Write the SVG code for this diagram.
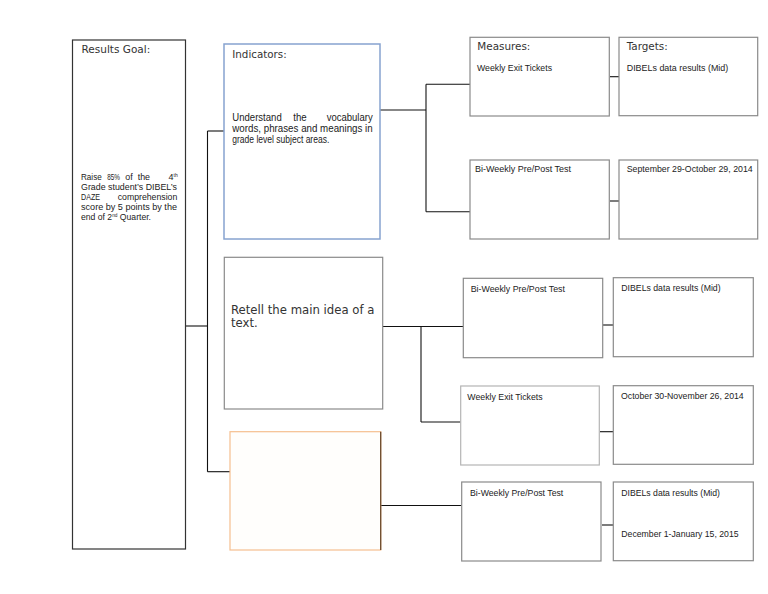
<svg xmlns="http://www.w3.org/2000/svg" width="768" height="594" viewBox="0 0 768 594">
<style>
.box{fill:#fff;stroke:#8a8a8a;stroke-width:1.2}
.lt{stroke:#b4b4b4}
.dk{stroke:#333}
.conn path{fill:none;stroke:#111;stroke-width:1.1}
.h{font-family:"DejaVu Sans",sans-serif;fill:#333}
.n{font-family:"Liberation Sans",Arial,sans-serif;fill:#222;font-size:9.3px}
.p{font-family:"Liberation Sans",Arial,sans-serif;fill:#222;font-size:10px}
.g{font-family:"Liberation Sans",Arial,sans-serif;fill:#222;font-size:9px}
.sup{font-size:5px}
</style>
<rect width="768" height="594" fill="#fff"/>

<g class="conn">
<path d="M185.5,326 H207.5"/>
<path d="M207.5,131 V471.7"/>
<path d="M207.5,131 H224"/>
<path d="M207.5,471.7 H230"/>
<path d="M380,110 H426"/>
<path d="M426,84.3 V211.7"/>
<path d="M426,84.3 H470"/>
<path d="M426,211.7 H470"/>
<path d="M610,76.7 H619"/>
<path d="M610,201 H619"/>
<path d="M382.7,326.5 H463.3"/>
<path d="M421,326.5 V422"/>
<path d="M421,422 H460.7"/>
<path d="M603,325 H613.3"/>
<path d="M600,431.7 H613.3"/>
<path d="M380.7,505.5 H461.7"/>
<path d="M602,525 H613.3"/>
</g>

<g id="goal">
<rect class="box dk" x="72.5" y="40" width="113" height="509"/>
<text class="h" x="81.5" y="52.7" font-size="10.5">Results Goal:</text>
<text class="g" x="81" y="180" textLength="20.7" lengthAdjust="spacingAndGlyphs">Raise</text>
<text class="g" x="107.3" y="180" textLength="12.7" lengthAdjust="spacingAndGlyphs">85%</text>
<text class="g" x="125.3" y="180" textLength="7.4" lengthAdjust="spacingAndGlyphs">of</text>
<text class="g" x="137.7" y="180" textLength="12.3" lengthAdjust="spacingAndGlyphs">the</text>
<text class="g" x="168.5" y="180">4<tspan class="sup" dy="-3">th</tspan></text>
<text class="g" x="81" y="190" textLength="96" lengthAdjust="spacingAndGlyphs">Grade student’s DIBEL’s</text>
<text class="g" x="81" y="200" textLength="19" lengthAdjust="spacingAndGlyphs">DAZE</text>
<text class="g" x="117.7" y="200" textLength="59.6" lengthAdjust="spacingAndGlyphs">comprehension</text>
<text class="g" x="81" y="210" textLength="96" lengthAdjust="spacingAndGlyphs">score by 5 points by the</text>
<text class="g" x="81" y="220" textLength="70" lengthAdjust="spacingAndGlyphs">end of 2<tspan class="sup" dy="-3">nd</tspan><tspan dy="3"> Quarter.</tspan></text>
</g>

<g id="indicators">
<rect class="box" x="224" y="44" width="156" height="195" style="stroke:#87a3cf;stroke-width:1.5"/>
<text class="h" x="232.3" y="58.3" font-size="10.3">Indicators:</text>
<text class="p" x="232.3" y="120.7" textLength="49.4" lengthAdjust="spacingAndGlyphs">Understand</text>
<text class="p" x="293.3" y="120.7" textLength="13.4" lengthAdjust="spacingAndGlyphs">the</text>
<text class="p" x="326.7" y="120.7" textLength="46" lengthAdjust="spacingAndGlyphs">vocabulary</text>
<text class="p" x="232.3" y="131.7" textLength="140.4" lengthAdjust="spacingAndGlyphs">words, phrases and meanings in</text>
<text class="p" x="232.3" y="142.7" textLength="97" lengthAdjust="spacingAndGlyphs">grade level subject areas.</text>
</g>

<g id="retell">
<rect class="box" x="224.3" y="257.3" width="158.4" height="151.7"/>
<text class="h" x="231" y="314" font-size="11.7">Retell the main idea of a</text>
<text class="h" x="231" y="327.3" font-size="11.7">text.</text>
</g>

<g id="blank">
<rect x="230" y="431.7" width="150.7" height="118.3" fill="#fffefc" stroke="#f5bf8f" stroke-width="1.2"/>
<path d="M380.7,431.7 V550" stroke="#6b4a2e" stroke-width="1.3" fill="none"/>
</g>

<g id="m1">
<rect class="box" x="470" y="37.3" width="139.3" height="78.7"/>
<text class="h" x="477.3" y="50" font-size="10.4">Measures:</text>
<text class="n" x="477" y="70.7" textLength="75" lengthAdjust="spacingAndGlyphs">Weekly Exit Tickets</text>
</g>
<g id="t1">
<rect class="box" x="619" y="37.3" width="138.7" height="78.4"/>
<text class="h" x="626.7" y="50" font-size="10.4">Targets:</text>
<text class="n" x="626.7" y="70.7" textLength="101.6" lengthAdjust="spacingAndGlyphs">DIBELs data results (Mid)</text>
</g>
<g id="m2">
<rect class="box" x="470" y="160" width="139.3" height="79"/>
<text class="n" x="475" y="171.7" textLength="96" lengthAdjust="spacingAndGlyphs">Bi-Weekly Pre/Post Test</text>
</g>
<g id="t2">
<rect class="box" x="619" y="160" width="138.7" height="79"/>
<text class="n" x="626.7" y="171.7" textLength="126" lengthAdjust="spacingAndGlyphs">September 29-October 29, 2014</text>
</g>

<g id="m3">
<rect class="box" x="463.3" y="278.3" width="139.4" height="79.4"/>
<text class="n" x="470.7" y="291.7" textLength="94.3" lengthAdjust="spacingAndGlyphs">Bi-Weekly Pre/Post Test</text>
</g>
<g id="t3">
<rect class="box" x="613.3" y="277.7" width="140" height="79"/>
<text class="n" x="621.3" y="290.7" textLength="99.3" lengthAdjust="spacingAndGlyphs">DIBELs data results (Mid)</text>
</g>
<g id="m4">
<rect class="box lt" x="460.7" y="386" width="138.6" height="79"/>
<text class="n" x="467.3" y="400" textLength="75.3" lengthAdjust="spacingAndGlyphs">Weekly Exit Tickets</text>
</g>
<g id="t4">
<rect class="box" x="613.3" y="385.7" width="140" height="78.6"/>
<text class="n" x="621" y="399.3" textLength="122.7" lengthAdjust="spacingAndGlyphs">October 30-November 26, 2014</text>
</g>
<g id="m5">
<rect class="box" x="461.7" y="482" width="139.3" height="79"/>
<text class="n" x="470" y="495.7" textLength="93.3" lengthAdjust="spacingAndGlyphs">Bi-Weekly Pre/Post Test</text>
</g>
<g id="t5">
<rect class="box" x="613.3" y="482" width="140" height="78.7"/>
<text class="n" x="621.3" y="495.7" textLength="98.7" lengthAdjust="spacingAndGlyphs">DIBELs data results (Mid)</text>
<text class="n" x="621.3" y="537.3" textLength="117.3" lengthAdjust="spacingAndGlyphs">December 1-January 15, 2015</text>
</g>
</svg>
